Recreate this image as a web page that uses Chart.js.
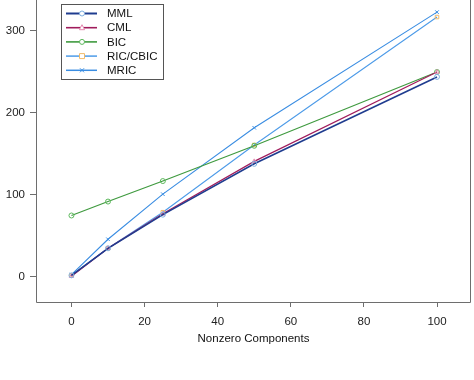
<!DOCTYPE html>
<html><head><meta charset="utf-8">
<script src="https://cdn.jsdelivr.net/npm/chart.js@4/dist/chart.umd.min.js"></script>
<style>html,body{margin:0;padding:0;background:#fff}#wrap{width:474px;height:380px}</style>
</head><body><div id="wrap"><canvas id="c" width="474" height="380"></canvas></div>
<script>
const components = [0, 10, 25, 50, 100];
const mml = [2, 35, 76, 138, 244];
const cml = [1, 35, 77, 141, 250];
const bic = [75, 92, 117, 160, 250];
const ricCbic = [2, 35, 79, 161, 317];
const mric = [3, 46, 101, 182, 323];
const xTicks = [0, 20, 40, 60, 80, 100];
const yTicks = [0, 100, 200, 300];
const seriesLabels = ['MML', 'CML', 'BIC', 'RIC/CBIC', 'MRIC'];

const FONT = "'Liberation Sans', Arial, sans-serif";
const styles = [
  {line:'#1f3c8f', pt:'#7fb0e0', ps:'circle', w:1.6},
  {line:'#a01c5c', pt:'#e58ab0', ps:'triangle', w:1.2},
  {line:'#3f9a3f', pt:'#5cb85c', ps:'circle', w:1.2},
  {line:'#4d9be8', pt:'#f1bb6a', ps:'rect', w:1.1},
  {line:'#3a8de2', pt:'#3a8de2', ps:'crossRot', w:1.1}
];
const values = [mml, cml, bic, ricCbic, mric];
const datasets = values.map((arr, i) => ({
  label: seriesLabels[i],
  data: arr.map((v, j) => ({x: components[j], y: v})),
  borderColor: styles[i].line,
  borderWidth: styles[i].w,
  pointStyle: styles[i].ps,
  pointRadius: 2.5,
  pointBorderColor: styles[i].pt,
  pointBackgroundColor: 'rgba(255,255,255,0)',
  pointBorderWidth: 1,
  tension: 0,
  fill: false
}));

const framePlugin = {
  id: 'frame',
  afterDraw(chart) {
    const {ctx, chartArea: a} = chart;
    ctx.save();
    ctx.strokeStyle = '#6e6e6e';
    ctx.lineWidth = 1;
    ctx.beginPath();
    ctx.moveTo(a.left + 0.5, a.top);
    ctx.lineTo(a.left + 0.5, a.bottom + 0.5);
    ctx.lineTo(a.right - 0.5, a.bottom + 0.5);
    ctx.lineTo(a.right - 0.5, a.top);
    ctx.stroke();
    // legend box
    const bx = 61.5, by = 4.5, bw = 102, bh = 75;
    ctx.fillStyle = '#fff';
    ctx.fillRect(bx, by, bw, bh);
    ctx.strokeStyle = '#555';
    ctx.strokeRect(bx, by, bw, bh);
    ctx.font = '11.5px ' + FONT;
    ctx.textBaseline = 'middle';
    ctx.textAlign = 'left';
    chart.data.datasets.forEach((ds, i) => {
      const y = 13.5 + i * 14.2;
      ctx.strokeStyle = ds.borderColor;
      ctx.lineWidth = ds.borderWidth + 0.4;
      ctx.beginPath(); ctx.moveTo(66, y); ctx.lineTo(97, y); ctx.stroke();
      ctx.save();
      ctx.strokeStyle = ds.pointBorderColor; ctx.lineWidth = 1;
      ctx.fillStyle = '#fff';
      ctx.beginPath();
      if (ds.pointStyle === 'circle') { ctx.arc(82, y, 2.5, 0, Math.PI*2); ctx.fill(); ctx.stroke(); }
      else if (ds.pointStyle === 'triangle') { ctx.moveTo(82, y-3); ctx.lineTo(84.6, y+2); ctx.lineTo(79.4, y+2); ctx.closePath(); ctx.fill(); ctx.stroke(); }
      else if (ds.pointStyle === 'rect') { ctx.rect(79.5, y-2.5, 5, 5); ctx.fill(); ctx.stroke(); }
      else { ctx.moveTo(80, y-2); ctx.lineTo(84, y+2); ctx.moveTo(84, y-2); ctx.lineTo(80, y+2); ctx.stroke(); }
      ctx.restore();
      ctx.fillStyle = '#111';
      ctx.fillText(ds.label, 107, y + 0.5);
    });
    ctx.restore();
  }
};

new Chart(document.getElementById('c'), {
  type: 'line',
  data: {datasets},
  plugins: [framePlugin],
  options: {
    responsive: false,
    animation: false,
    layout: {autoPadding: false, padding: {top: 0, right: 3, left: 0, bottom: 34}},
    plugins: {legend: {display: false}, tooltip: {enabled: false}},
    scales: {
      x: {
        type: 'linear', min: -9.7, max: 109.3,
        afterBuildTicks: s => { s.ticks = xTicks.map(v => ({value: v})); },
        afterFit: s => { s.height = 44; s.paddingLeft = 0; s.paddingRight = 0; },
        grid: {drawOnChartArea: false, tickLength: 5, color: '#6e6e6e'},
        border: {display: false},
        ticks: {padding: 8, color: '#222', font: {family: FONT, size: 11.5}},
        title: {display: true, text: 'Nonzero Components', color: '#111',
                font: {family: FONT, size: 11.5}, padding: {top: 2, bottom: 0}}
      },
      y: {
        type: 'linear', min: -30.5, max: 337.8,
        afterBuildTicks: s => { s.ticks = yTicks.map(v => ({value: v})); },
        afterFit: s => { s.width = 36; s.paddingTop = 0; s.paddingBottom = 0; },
        grid: {drawOnChartArea: false, tickLength: 6, color: '#6e6e6e'},
        border: {display: false},
        ticks: {padding: 5, color: '#222', font: {family: FONT, size: 11.5}}
      }
    }
  }
});
</script></body></html>
